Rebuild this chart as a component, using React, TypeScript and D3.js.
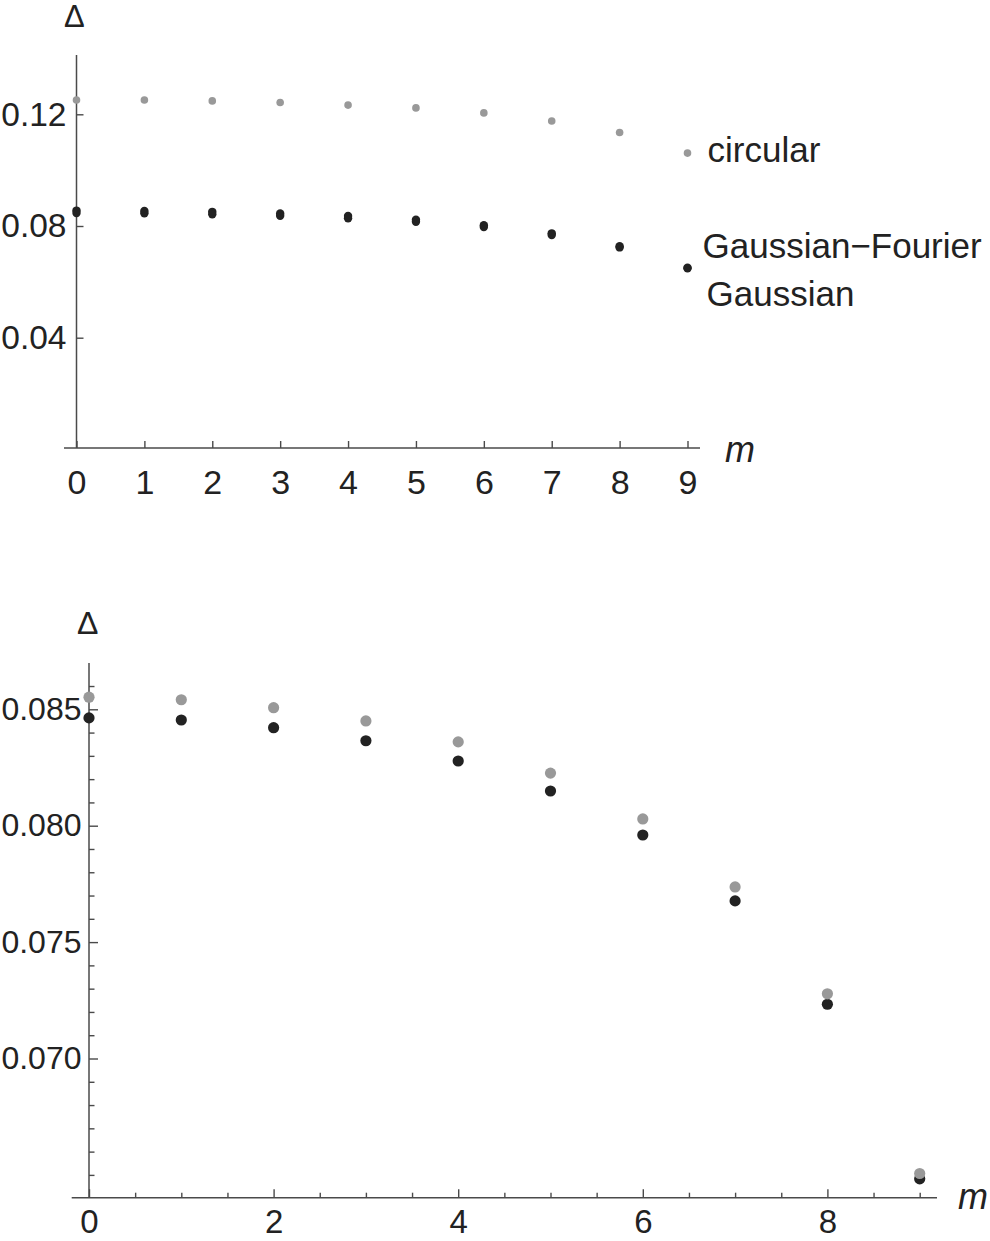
import * as d3 from "d3"
import { useEffect, useRef } from "react"

// m = 0..9
const mValues = [0, 1, 2, 3, 4, 5, 6, 7, 8, 9]
const circular = [0.1251, 0.1251, 0.1248, 0.1242, 0.1233, 0.1223, 0.1205, 0.1176, 0.1135, 0.1061]
const gaussianFourier = [0.08552, 0.08541, 0.08507, 0.0845, 0.0836, 0.08226, 0.08029, 0.07737, 0.07278, 0.06506]
const gaussian = [0.08463, 0.08454, 0.08421, 0.08365, 0.08278, 0.08149, 0.0796, 0.07677, 0.07233, 0.06483]

const topYTicks = [0.04, 0.08, 0.12]
const topXTicks = [0, 1, 2, 3, 4, 5, 6, 7, 8, 9]
const bottomYTicks = [0.07, 0.075, 0.08, 0.085]
const bottomYMinor = [0.065, 0.066, 0.067, 0.068, 0.069, 0.071, 0.072, 0.073, 0.074, 0.076, 0.077, 0.078, 0.079, 0.081, 0.082, 0.083, 0.084, 0.086]
const bottomXTicks = [0, 2, 4, 6, 8]
const bottomXMinor = [0.5, 1, 1.5, 2.5, 3, 3.5, 4.5, 5, 5.5, 6.5, 7, 7.5, 8.5, 9]
const seriesLabels = ["circular", "Gaussian\u2212Fourier", "Gaussian"]

const FONT = "'Liberation Sans', Arial, sans-serif"
const TEXT = "#222"
const AXIS = "#4a4a4a"
const GRAY = "#999"
const DARK = "#222"

export default function App() {
  const svgRef = useRef<SVGSVGElement>(null)

  useEffect(() => {
    if (!svgRef.current) return
    const root = d3.select(svgRef.current)
    root.selectAll("*").remove()

    const styleAxis = (g: any, size: number) => {
      g.select(".domain").remove()
      g.selectAll(".tick line").attr("stroke", AXIS).attr("stroke-width", 1.4)
      g.selectAll(".tick text")
        .attr("fill", TEXT)
        .style("font-family", FONT)
        .style("font-size", `${size}px`)
    }

    // ---------- top chart ----------
    const top = root.append("g")
    const xTop = d3.scaleLinear().domain([0, 9]).range([76.5, 687.5])
    const yTop = d3.scaleLinear().domain([0.08, 0.12]).range([226, 114.3])
    const topAxisY = 448
    const topAxisX = xTop(0)

    top.append("g")
      .attr("transform", `translate(${topAxisX},0)`)
      .call(d3.axisLeft(yTop).tickValues(topYTicks).tickFormat(d3.format(".2f")).tickSize(-7).tickPadding(10))
      .call((g: any) => styleAxis(g, 33.5))

    top.append("g")
      .attr("transform", `translate(0,${topAxisY})`)
      .call(d3.axisBottom(xTop).tickValues(topXTicks).tickFormat(d3.format("d")).tickSize(-7).tickPadding(22))
      .call((g: any) => styleAxis(g, 34))

    top.append("line")
      .attr("x1", topAxisX).attr("x2", topAxisX)
      .attr("y1", 55).attr("y2", topAxisY)
      .attr("stroke", AXIS).attr("stroke-width", 1.5)
    top.append("line")
      .attr("x1", 64).attr("x2", 700)
      .attr("y1", topAxisY).attr("y2", topAxisY)
      .attr("stroke", AXIS).attr("stroke-width", 1.5)

    top.append("g").selectAll("circle")
      .data(mValues)
      .join("circle")
      .attr("cx", (d) => xTop(d))
      .attr("cy", (d, i) => yTop(circular[i]))
      .attr("r", 3.8)
      .attr("fill", GRAY)

    ;[gaussianFourier, gaussian].forEach((series) => {
      top.append("g").selectAll("circle")
        .data(mValues)
        .join("circle")
        .attr("cx", (d) => xTop(d))
        .attr("cy", (d, i) => yTop(series[i]))
        .attr("r", 4.2)
        .attr("fill", DARK)
    })

    // series labels next to the m = 9 points
    const labelX = xTop(9)
    const lbl = (text: string, x: number, y: number) =>
      top.append("text")
        .attr("x", x).attr("y", y)
        .attr("fill", TEXT)
        .style("font-family", FONT)
        .style("font-size", "35px")
        .text(text)
    lbl(seriesLabels[0], labelX + 20, yTop(circular[9]) + 9)
    lbl(seriesLabels[1], labelX + 15, yTop(gaussianFourier[9]) - 10)
    lbl(seriesLabels[2], labelX + 19, yTop(gaussian[9]) + 38)

    top.append("text")
      .attr("x", 64).attr("y", 27)
      .attr("fill", TEXT)
      .style("font-family", FONT)
      .style("font-size", "31px")
      .text("\u0394")
    top.append("text")
      .attr("x", 725).attr("y", 462)
      .attr("fill", TEXT)
      .style("font-family", FONT)
      .style("font-style", "italic")
      .style("font-size", "36px")
      .text("m")

    // ---------- bottom chart ----------
    const bot = root.append("g")
    const xBot = d3.scaleLinear().domain([0, 8]).range([89, 827.4])
    const yBot = d3.scaleLinear().domain([0.08, 0.085]).range([825.7, 709.3])
    const botAxisY = 1197.7
    const botAxisX = xBot(0)

    bot.append("g")
      .attr("transform", `translate(${botAxisX},0)`)
      .call(d3.axisLeft(yBot).tickValues(bottomYMinor).tickFormat(() => "").tickSize(-5.5))
      .call((g: any) => styleAxis(g, 32))
    bot.append("g")
      .attr("transform", `translate(${botAxisX},0)`)
      .call(d3.axisLeft(yBot).tickValues(bottomYTicks).tickFormat(d3.format(".3f")).tickSize(-9).tickPadding(7.5))
      .call((g: any) => styleAxis(g, 32))

    bot.append("g")
      .attr("transform", `translate(0,${botAxisY})`)
      .call(d3.axisBottom(xBot).tickValues(bottomXMinor).tickFormat(() => "").tickSize(-5))
      .call((g: any) => styleAxis(g, 33))
    bot.append("g")
      .attr("transform", `translate(0,${botAxisY})`)
      .call(d3.axisBottom(xBot).tickValues(bottomXTicks).tickFormat(d3.format("d")).tickSize(-8.5).tickPadding(12))
      .call((g: any) => styleAxis(g, 33))

    bot.append("line")
      .attr("x1", botAxisX).attr("x2", botAxisX)
      .attr("y1", 663).attr("y2", botAxisY)
      .attr("stroke", AXIS).attr("stroke-width", 1.5)
    bot.append("line")
      .attr("x1", 71.7).attr("x2", 937)
      .attr("y1", botAxisY).attr("y2", botAxisY)
      .attr("stroke", AXIS).attr("stroke-width", 1.5)

    bot.append("g").selectAll("circle")
      .data(mValues)
      .join("circle")
      .attr("cx", (d) => xBot(d))
      .attr("cy", (d, i) => yBot(gaussian[i]))
      .attr("r", 5.6)
      .attr("fill", DARK)
    bot.append("g").selectAll("circle")
      .data(mValues)
      .join("circle")
      .attr("cx", (d) => xBot(d))
      .attr("cy", (d, i) => yBot(gaussianFourier[i]))
      .attr("r", 5.6)
      .attr("fill", GRAY)

    bot.append("text")
      .attr("x", 77).attr("y", 634)
      .attr("fill", TEXT)
      .style("font-family", FONT)
      .style("font-size", "32px")
      .text("\u0394")
    bot.append("text")
      .attr("x", 958).attr("y", 1209)
      .attr("fill", TEXT)
      .style("font-family", FONT)
      .style("font-style", "italic")
      .style("font-size", "36px")
      .text("m")
  }, [])

  return (
    <svg
      ref={svgRef}
      width={990}
      height={1241}
      style={{ position: "absolute", left: 0, top: 0, background: "#fff" }}
    />
  )
}
